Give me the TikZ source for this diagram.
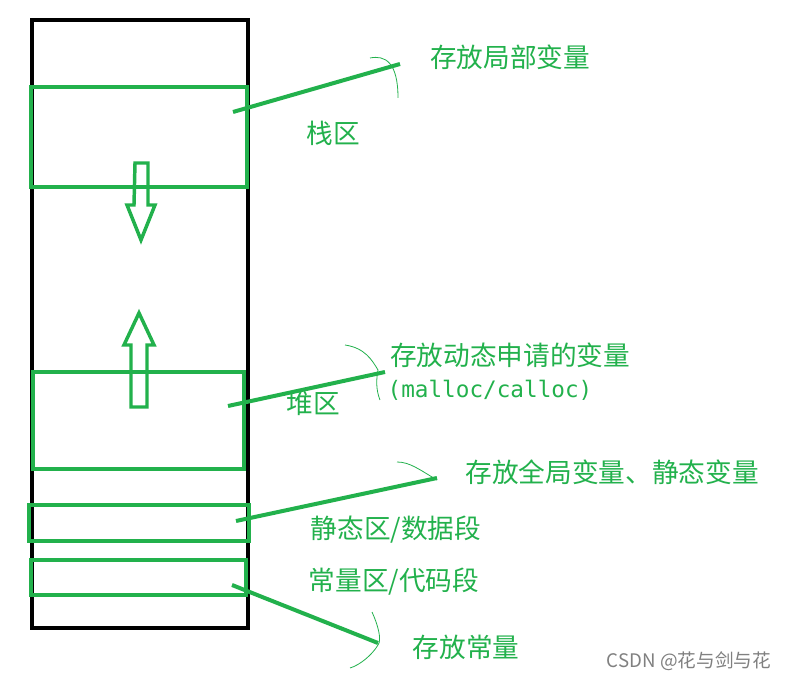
\documentclass[tikz,border=0pt]{standalone}
\usepackage{fontspec}
\setmainfont{Noto Sans CJK SC}
\setmonofont{DejaVu Sans Mono}
\begin{document}
\begin{tikzpicture}[x=0.75pt,y=-0.75pt]
\definecolor{gr}{RGB}{34,177,76}
\tikzset{gbox/.style={draw=gr,line width=2.6pt},
 gline/.style={draw=gr,line width=3pt},
 thin/.style={draw=gr,line width=0.6pt},
 lab/.style={text=gr,font=\fontsize{20}{24}\selectfont,inner sep=0pt}}
\useasboundingbox[fill=white] (0,0) rectangle (789,680);
\draw[line width=3pt] (32,20) rectangle (248,628);
\node[gbox,minimum width=216*0.75pt,minimum height=100*0.75pt] (stack) at (139,137) {};
\node[gbox,minimum width=211*0.75pt,minimum height=97*0.75pt] (heap) at (138.5,420.5) {};
\node[gbox,minimum width=220*0.75pt,minimum height=36*0.75pt] (stat) at (139,523) {};
\node[gbox,minimum width=215*0.75pt,minimum height=35*0.75pt] (cons) at (138.5,577.5) {};
% arrows
\draw[gr,line width=2.6pt,line join=miter] (135,163)--(148,163)--(148,205)--(155,205)--(141,240)--(127,205)--(134,205)--cycle;
\draw[gr,line width=2.6pt,line join=miter] (131,407)--(147,407)--(147,345)--(154,345)--(139,313)--(124,345)--(131,345)--cycle;
% labels
\node[lab] (t1) at (510,57) {存放局部变量};
\node[lab] (s1) at (333,133) {栈区};
\node[lab] (t2) at (510,355) {存放动态申请的变量};
\node[lab,font=\ttfamily\fontsize{17}{20}\selectfont] (t2b) at (490,390) {(malloc/calloc)};
\node[lab] (s2) at (313,403) {堆区};
\node[lab] (t3) at (612,472) {存放全局变量、静态变量};
\node[lab] (s3) at (396,530) {静态区/数据段};
\node[lab] (s4) at (394,582) {常量区/代码段};
\node[lab] (t4) at (466,647) {存放常量};
\node[text=gray,font=\fontsize{14}{16}\selectfont,inner sep=0pt] (wm) at (689,661) {CSDN @花与剑与花};
% connectors
\coordinate (a1) at (400,64); \coordinate (a2) at (385,372);
\coordinate (a3) at (437,478); \coordinate (a4) at (378,643);
\draw[gline] (233,112) -- (a1);
\draw[gline] (228,406) -- (a2);
\draw[gline] (236,521) -- (a3);
\draw[gline] (232,585) -- (a4);
\draw[thin] (370,58) .. controls (385,55) and (398,62) .. (398,98);
\draw[thin] (345,345) .. controls (365,348) and (372,360) .. (378,370) .. controls (375,385) and (378,395) .. (380,400);
\draw[thin] (397,462) .. controls (410,462) and (420,470) .. (437,480);
\draw[thin] (372,612) .. controls (378,625) and (382,640) .. (378,645) .. controls (372,655) and (360,665) .. (350,668);
\end{tikzpicture}
\end{document}
